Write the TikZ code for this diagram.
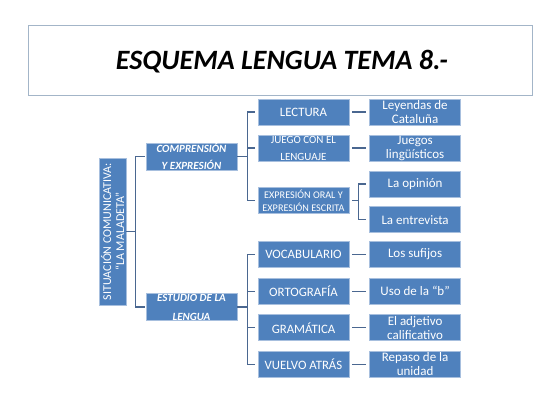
\documentclass[tikz,border=0pt]{standalone}
\usepackage{fontspec}
\setmainfont{Carlito}
\usetikzlibrary{positioning}
\definecolor{cajazul}{HTML}{4F81BD}
\definecolor{cajaborde}{HTML}{A7BFDE}
\definecolor{lineazul}{HTML}{4A6790}
\definecolor{marcogris}{HTML}{A3B5C8}

\begin{document}
\begin{tikzpicture}[x=1pt, y=-1pt,
		caja/.style={rectangle, draw=cajaborde, line width=0.6pt, fill=cajazul, text=white, inner sep=0pt, minimum width=91pt, minimum height=26pt, align=center, font=\fontsize{12.8}{13}\selectfont},
		hoja/.style={caja, font=\fontsize{13}{14}\selectfont},
		tema/.style={caja, minimum height=27pt, font=\fontsize{11}{17}\selectfont\bfseries\itshape},
		enlace/.style={draw=lineazul, line width=1.2pt}]
		\useasboundingbox (0,0) rectangle (560,420);

		% titulo
		\node (marco) [draw=marcogris, line width=1pt, minimum width=504pt, minimum height=70pt, inner sep=0pt] at (280,61) {};
		\node (titulo) at (282,62) {\fontsize{28}{32}\selectfont\bfseries\itshape ESQUEMA LENGUA TEMA 8.-};

		% raiz
		\node (raiz) [caja, rotate=90, minimum width=147pt, minimum height=27pt, font=\fontsize{12}{13}\selectfont] at (112.5,231.5) {SITUACIÓN COMUNICATIVA:\\“LA MALADETA”};

		% temas
		\node (comp) [tema] at (191.5,156.5) {COMPRENSIÓN\\Y EXPRESIÓN};
		\node (estudio) [tema, font=\fontsize{11}{19}\selectfont\bfseries\itshape] at (191.5,307) {ESTUDIO DE LA\\LENGUA};

		% columna central
		\node (lectura) [caja] at (303.5,112) {LECTURA};
		\node (juego) [caja, font=\fontsize{11}{17}\selectfont] at (303.5,148) {JUEGO CON EL\\LENGUAJE};
		\node (expr) [caja, font=\fontsize{10.2}{13}\selectfont] at (303.5,200.5) {EXPRESIÓN ORAL Y\\EXPRESIÓN ESCRITA};
		\node (vocab) [caja] at (303.5,254.5) {VOCABULARIO};
		\node (orto) [caja, below=10pt of vocab] {ORTOGRAFÍA};
		\node (grama) [caja, below=10pt of orto] {GRAMÁTICA};
		\node (vuelvo) [caja, below=10pt of grama] {VUELVO ATRÁS};

		% columna derecha
		\node (leyendas) [hoja, right=20pt of lectura] {Leyendas de\\Cataluña};
		\node (juegos) [hoja, right=20pt of juego] {Juegos\\lingüísticos};
		\node (opinion) [hoja, right=20pt of expr, yshift=16.5pt] {La opinión};
		\node (entrevista) [hoja, below=9pt of opinion] {La entrevista};
		\node (sufijos) [hoja, right=20pt of vocab] {Los sufijos};
		\node (usob) [hoja, right=20pt of orto] {Uso de la “b”};
		\node (adjetivo) [hoja, right=20pt of grama] {El adjetivo\\calificativo};
		\node (repaso) [hoja, right=20pt of vuelvo] {Repaso de la\\unidad};

		% enlaces
		\foreach \dest in {comp, estudio}
			\draw[enlace, shorten >=1pt] (raiz.south) -- ([xshift=9pt]raiz.south) |- (\dest.west);
		\foreach \dest in {lectura, juego, expr}
			\draw[enlace, shorten >=3pt] (comp.east) -- ([xshift=10pt]comp.east) |- (\dest.west);
		\foreach \dest in {vocab, orto, grama, vuelvo}
			\draw[enlace, shorten >=3pt] (estudio.east) -- ([xshift=10pt]estudio.east) |- (\dest.west);
		\foreach \dest in {opinion, entrevista}
			\draw[enlace, shorten <=3pt, shorten >=3pt] (expr.east) -- ([xshift=9pt]expr.east) |- (\dest.west);
		\draw[enlace, shorten <=3pt, shorten >=3pt] (lectura) -- (leyendas);
		\draw[enlace, shorten <=3pt, shorten >=3pt] (juego) -- (juegos);
		\draw[enlace, shorten <=3pt, shorten >=3pt] (vocab) -- (sufijos);
		\draw[enlace, shorten <=3pt, shorten >=3pt] (orto) -- (usob);
		\draw[enlace, shorten <=3pt, shorten >=3pt] (grama) -- (adjetivo);
		\draw[enlace, shorten <=3pt, shorten >=3pt] (vuelvo) -- (repaso);
\end{tikzpicture}
\end{document}
